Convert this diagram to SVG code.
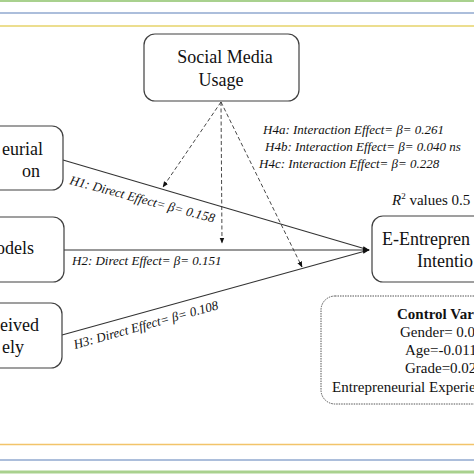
<svg xmlns="http://www.w3.org/2000/svg" width="474" height="474" viewBox="0 0 474 474">
<defs>
<style>
.box{fill:#fff;stroke:#404040;stroke-width:1.2}
.ctl{fill:#fff;stroke:#555;stroke-width:1;stroke-dasharray:1.5,1}
.nt{font-family:"Liberation Serif","Times New Roman",serif;font-size:18px;fill:#111}
.ct{font-family:"Liberation Serif","Times New Roman",serif;font-size:15px;fill:#111}
.lb{font-family:"Liberation Serif","Times New Roman",serif;font-size:13px;font-style:italic;fill:#111}
.ln{stroke:#333;stroke-width:1.1;fill:none}
.dl{stroke:#333;stroke-width:0.9;fill:none;stroke-dasharray:4,2.5}
</style>
<marker id="ah" viewBox="0 0 10 10" refX="9" refY="5" markerWidth="6" markerHeight="6" orient="auto" markerUnits="userSpaceOnUse">
<path d="M0,1 L10,5 L0,9 z" fill="#111"/>
</marker>
<marker id="ah2" viewBox="0 0 10 10" refX="9" refY="5" markerWidth="7" markerHeight="7" orient="auto" markerUnits="userSpaceOnUse">
<path d="M0,2 L10,5 L0,8 z" fill="#111"/>
</marker>
</defs>
<rect width="474" height="474" fill="#fff"/>
<g id="frame">
<line x1="0" y1="1" x2="474" y2="1" stroke="#a9d18e" stroke-width="2"/>
<line x1="0" y1="13" x2="474" y2="13" stroke="#5b7fb8" stroke-width="1.2"/>
<line x1="0" y1="26" x2="474" y2="26" stroke="#e6d36a" stroke-width="1.5"/>
<line x1="0" y1="444.5" x2="474" y2="444.5" stroke="#f2c46a" stroke-width="1.5"/>
<line x1="0" y1="460" x2="474" y2="460" stroke="#5b7fb8" stroke-width="1.2"/>
<line x1="0" y1="472" x2="474" y2="472" stroke="#a9d18e" stroke-width="3"/>
</g>
<g id="connectors">
<line class="ln" x1="63" y1="160" x2="369" y2="250" marker-end="url(#ah2)"/>
<line class="ln" x1="64" y1="250" x2="369" y2="250" marker-end="url(#ah2)"/>
<line class="ln" x1="62" y1="335" x2="369" y2="250" marker-end="url(#ah2)"/>
<line class="dl" x1="221" y1="102" x2="163" y2="187" marker-end="url(#ah)"/>
<line class="dl" x1="221" y1="102" x2="222" y2="243" marker-end="url(#ah)"/>
<line class="dl" x1="221" y1="102" x2="302" y2="267" marker-end="url(#ah)"/>
<text class="lb" transform="translate(69,184) rotate(15)">H1: Direct Effect= β= 0.158</text>
<text class="lb" x="72" y="265">H2: Direct Effect= β= 0.151</text>
<text class="lb" transform="translate(75,349) rotate(-15.5)">H3: Direct Effect= β= 0.108</text>
<text class="lb" x="263" y="134">H4a: Interaction Effect= β= 0.261</text>
<text class="lb" x="265" y="151">H4b: Interaction Effect= β= 0.040 ns</text>
<text class="lb" x="259" y="168">H4c: Interaction Effect= β= 0.228</text>
</g>
<g id="social-media">
<rect class="box" x="144" y="34" width="155" height="67" rx="11"/>
<text class="nt" x="225" y="63" text-anchor="middle">Social Media</text>
<text class="nt" x="221" y="86" text-anchor="middle">Usage</text>
</g>
<g id="node-1">
<rect class="box" x="-30" y="126" width="93" height="64" rx="11"/>
<text class="nt" x="43" y="155" text-anchor="end">eurial</text>
<text class="nt" x="40" y="177" text-anchor="end">on</text>
</g>
<g id="node-2">
<rect class="box" x="-30" y="217" width="94" height="65" rx="11"/>
<text class="nt" x="34" y="254" text-anchor="end">odels</text>
</g>
<g id="node-3">
<rect class="box" x="-30" y="303" width="92" height="65" rx="11"/>
<text class="nt" x="39" y="331" text-anchor="end">eived</text>
<text class="nt" x="24" y="353" text-anchor="end">ely</text>
</g>
<g id="outcome">
<text class="ct" x="392" y="205"><tspan font-style="italic">R</tspan><tspan font-size="9" dy="-6">2</tspan><tspan dy="6"> values 0.5</tspan></text>
<rect class="box" x="372" y="216" width="130" height="66" rx="11"/>
<text class="nt" x="382" y="245">E-Entrepren</text>
<text class="nt" x="417" y="267">Intentio</text>
</g>
<g id="controls">
<rect class="ctl" x="321" y="296" width="180" height="108" rx="14"/>
<text class="ct" x="397" y="319" font-weight="bold">Control Var</text>
<text class="ct" x="400" y="337">Gender= 0.0</text>
<text class="ct" x="405" y="355">Age=-0.011</text>
<text class="ct" x="405" y="373">Grade=0.02</text>
<text class="ct" x="332" y="392">Entrepreneurial Experie</text>
</g>
</svg>
